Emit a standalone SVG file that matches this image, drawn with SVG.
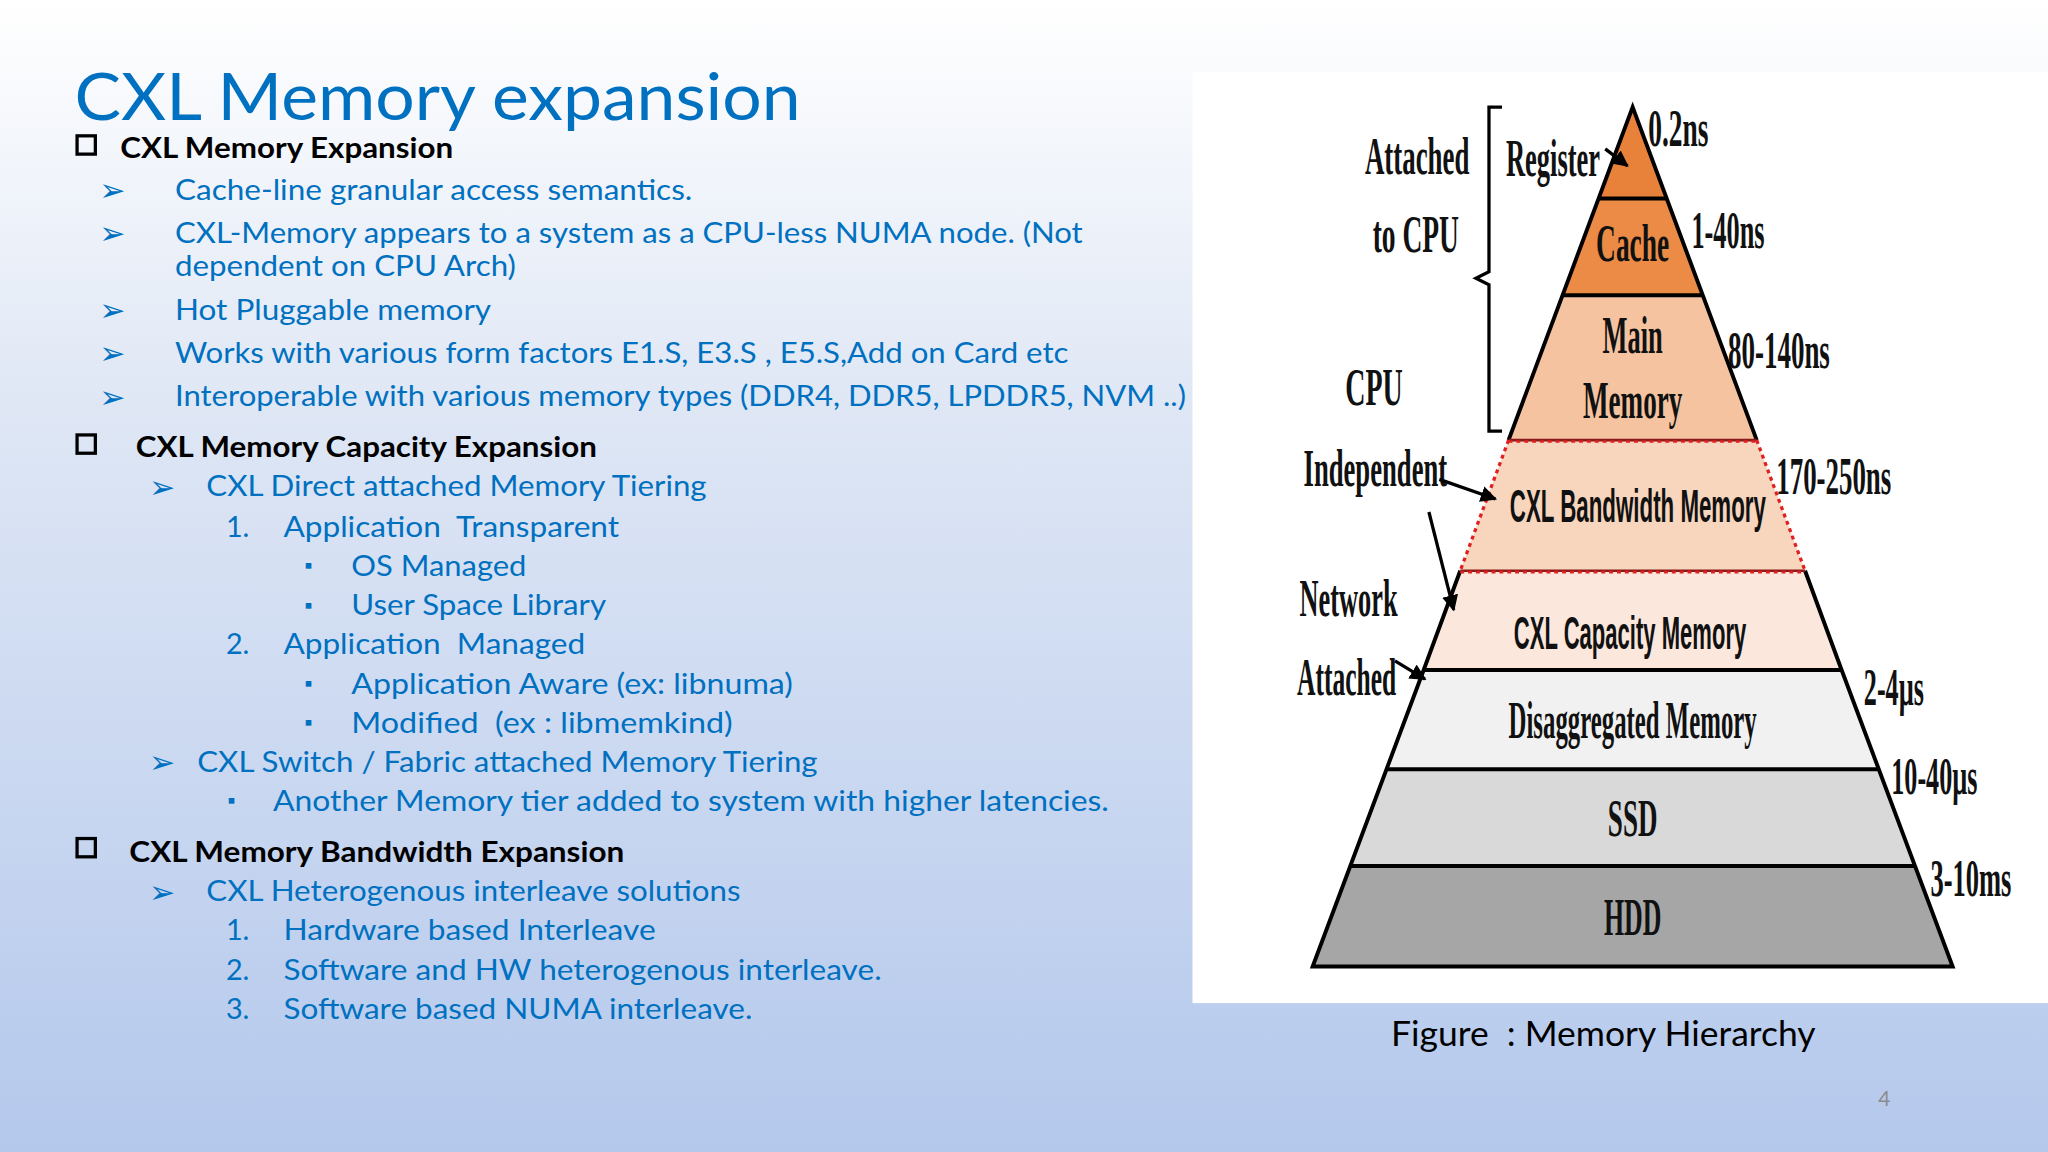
<svg xmlns="http://www.w3.org/2000/svg" width="2048" height="1152" viewBox="0 0 2048 1152">
<defs>
<linearGradient id="bg" x1="0" y1="0" x2="0" y2="1">
<stop offset="0" stop-color="#ffffff"/><stop offset="0.35" stop-color="#dfe7f5"/><stop offset="1" stop-color="#b4c8ec"/>
</linearGradient>
<marker id="ah" viewBox="0 0 10 10" refX="9" refY="5" markerWidth="5" markerHeight="5" orient="auto"><path d="M0,0L10,5L0,10z" fill="#000"/></marker>
<style>
.t{font-family:Lato,"Open Sans",sans-serif;font-size:22px;fill:#0070c0}
.b{font-family:Lato,"Open Sans",sans-serif;font-size:22px;font-weight:bold;fill:#000}
.m{font-family:"DejaVu Sans",sans-serif;font-size:24px;fill:#0070c0}
.p{font-family:"Liberation Serif",serif;font-weight:bold;font-size:40px;fill:#111}
.pc{font-family:"Liberation Sans",sans-serif;font-weight:bold;font-size:36px;fill:#111}
.ly{stroke:#000;stroke-width:3}
</style>
</defs>
<rect width="2048" height="1152" fill="url(#bg)"/>
<g transform="scale(1.30612)">
<rect x="913" y="55" width="655" height="713" fill="#fff"/>
<g id="title"><text x="57" y="92" textLength="556" lengthAdjust="spacingAndGlyphs" style="font-family:Lato,'Open Sans',sans-serif;font-size:50px;fill:#0070c0">CXL Memory expansion</text></g>
<g id="text-left">
<rect x="59" y="104" width="14" height="14" fill="none" stroke="#000" stroke-width="2.5"/>
<text class="b" x="92" y="121" textLength="255" lengthAdjust="spacingAndGlyphs">CXL Memory Expansion</text>
<text class="m" x="76" y="154">➢</text><text class="t" x="134" y="153" textLength="396" lengthAdjust="spacingAndGlyphs">Cache-line granular access semantics.</text>
<text class="m" x="76" y="187">➢</text><text class="t" x="134" y="186" textLength="695" lengthAdjust="spacingAndGlyphs">CXL-Memory appears to a system as a CPU-less NUMA node. (Not</text>
<text class="t" x="134" y="211" textLength="261" lengthAdjust="spacingAndGlyphs">dependent on CPU Arch)</text>
<text class="m" x="76" y="246">➢</text><text class="t" x="134" y="245" textLength="242" lengthAdjust="spacingAndGlyphs">Hot Pluggable memory</text>
<text class="m" x="76" y="279">➢</text><text class="t" x="134" y="278" textLength="684" lengthAdjust="spacingAndGlyphs">Works with various form factors E1.S, E3.S , E5.S,Add on Card etc</text>
<text class="m" x="76" y="312">➢</text><text class="t" x="134" y="311" textLength="774" lengthAdjust="spacingAndGlyphs">Interoperable with various memory types (DDR4, DDR5, LPDDR5, NVM ..)</text>
<rect x="59" y="333" width="14" height="14" fill="none" stroke="#000" stroke-width="2.5"/>
<text class="b" x="104" y="350" textLength="353" lengthAdjust="spacingAndGlyphs">CXL Memory Capacity Expansion</text>
<text class="m" x="114" y="381">➢</text><text class="t" x="158" y="380" textLength="383" lengthAdjust="spacingAndGlyphs">CXL Direct attached Memory Tiering</text>
<text class="t" x="173" y="411">1.</text><text class="t" x="217" y="411" xml:space="preserve" textLength="257" lengthAdjust="spacingAndGlyphs">Application  Transparent</text>
<text class="t" x="233" y="439" style="font-size:16px">▪</text><text class="t" x="269" y="441" textLength="134" lengthAdjust="spacingAndGlyphs">OS Managed</text>
<text class="t" x="233" y="469" style="font-size:16px">▪</text><text class="t" x="269" y="471" textLength="195" lengthAdjust="spacingAndGlyphs">User Space Library</text>
<text class="t" x="173" y="501">2.</text><text class="t" x="217" y="501" xml:space="preserve" textLength="231" lengthAdjust="spacingAndGlyphs">Application  Managed</text>
<text class="t" x="233" y="529" style="font-size:16px">▪</text><text class="t" x="269" y="531" textLength="338" lengthAdjust="spacingAndGlyphs">Application Aware (ex: libnuma)</text>
<text class="t" x="233" y="559" style="font-size:16px">▪</text><text class="t" x="269" y="561" xml:space="preserve" textLength="292" lengthAdjust="spacingAndGlyphs">Modified  (ex : libmemkind)</text>
<text class="m" x="114" y="592">➢</text><text class="t" x="151" y="591" textLength="475" lengthAdjust="spacingAndGlyphs">CXL Switch / Fabric attached Memory Tiering</text>
<text class="t" x="174" y="619" style="font-size:16px">▪</text><text class="t" x="209" y="621" textLength="640" lengthAdjust="spacingAndGlyphs">Another Memory tier added to system with higher latencies.</text>
<rect x="59" y="642" width="14" height="14" fill="none" stroke="#000" stroke-width="2.5"/>
<text class="b" x="99" y="660" textLength="379" lengthAdjust="spacingAndGlyphs">CXL Memory Bandwidth Expansion</text>
<text class="m" x="114" y="691">➢</text><text class="t" x="158" y="690" textLength="409" lengthAdjust="spacingAndGlyphs">CXL Heterogenous interleave solutions</text>
<text class="t" x="173" y="720">1.</text><text class="t" x="217" y="720" textLength="285" lengthAdjust="spacingAndGlyphs">Hardware based Interleave</text>
<text class="t" x="173" y="750">2.</text><text class="t" x="217" y="750" textLength="458" lengthAdjust="spacingAndGlyphs">Software and HW heterogenous interleave.</text>
<text class="t" x="173" y="780">3.</text><text class="t" x="217" y="780" textLength="359" lengthAdjust="spacingAndGlyphs">Software based NUMA interleave.</text>
</g>
<g id="pyramid">
<polygon points="1250,82 1224,152 1276,152" fill="#e8823a"/>
<polygon points="1224,152 1196,226 1304,226 1276,152" fill="#ec8b45"/>
<polygon points="1196,226 1155,337 1345,337 1304,226" fill="#f5c3a0"/>
<polygon points="1155,337 1118,437 1382,437 1345,337" fill="#f8d5bd"/>
<polygon points="1118,437 1090,513 1410,513 1382,437" fill="#fbe7dc"/>
<polygon points="1090,513 1061,589 1439,589 1410,513" fill="#f1f1f1"/>
<polygon points="1061,589 1034,663 1466,663 1439,589" fill="#d9d9d9"/>
<polygon points="1034,663 1005,740 1495,740 1466,663" fill="#a6a6a6"/>
<polyline points="1155,337 1250,82 1345,337" fill="none" class="ly"/>
<polyline points="1118,437 1090,513 1005,740 1495,740 1410,513 1382,437" fill="none" class="ly"/>
<line x1="1224" y1="152" x2="1276" y2="152" class="ly"/>
<line x1="1196" y1="226" x2="1304" y2="226" class="ly"/>
<line x1="1090" y1="513" x2="1410" y2="513" class="ly"/>
<line x1="1061" y1="589" x2="1439" y2="589" class="ly"/>
<line x1="1034" y1="663" x2="1466" y2="663" class="ly"/>
<line x1="1155" y1="337" x2="1345" y2="337" stroke="#8b1a1a" stroke-width="2"/>
<line x1="1118" y1="437" x2="1382" y2="437" stroke="#8b1a1a" stroke-width="2"/>
<polyline points="1155,337 1118,437" fill="none" stroke="#e02020" stroke-width="2.5" stroke-dasharray="3,3"/>
<polyline points="1345,337 1382,437" fill="none" stroke="#e02020" stroke-width="2.5" stroke-dasharray="3,3"/>
<line x1="1155" y1="338" x2="1345" y2="338" stroke="#e02020" stroke-width="2" stroke-dasharray="3,3"/>
<line x1="1118" y1="438" x2="1382" y2="438" stroke="#e02020" stroke-width="2" stroke-dasharray="3,3"/>
</g>
<g id="labels">
<text class="p" x="1085" y="133" text-anchor="middle" textLength="80" lengthAdjust="spacingAndGlyphs">Attached</text>
<text class="p" x="1084" y="193" text-anchor="middle" textLength="66" lengthAdjust="spacingAndGlyphs">to CPU</text>
<text class="p" x="1153" y="135" textLength="72" lengthAdjust="spacingAndGlyphs">Register</text>
<text class="p" x="1262" y="112" textLength="46" lengthAdjust="spacingAndGlyphs">0.2ns</text>
<text class="p" x="1250" y="200" text-anchor="middle" textLength="56" lengthAdjust="spacingAndGlyphs">Cache</text>
<text class="p" x="1295" y="190" textLength="56" lengthAdjust="spacingAndGlyphs">1-40ns</text>
<text class="p" x="1250" y="270" text-anchor="middle" textLength="46" lengthAdjust="spacingAndGlyphs">Main</text>
<text class="p" x="1250" y="320" text-anchor="middle" textLength="76" lengthAdjust="spacingAndGlyphs">Memory</text>
<text class="p" x="1323" y="282" textLength="78" lengthAdjust="spacingAndGlyphs">80-140ns</text>
<text class="p" x="1052" y="310" text-anchor="middle" textLength="44" lengthAdjust="spacingAndGlyphs">CPU</text>
<text class="p" x="998" y="372" textLength="110" lengthAdjust="spacingAndGlyphs">Independent</text>
<text class="pc" x="1254" y="400" text-anchor="middle" textLength="196" lengthAdjust="spacingAndGlyphs">CXL Bandwidth Memory</text>
<text class="p" x="1360" y="378" textLength="88" lengthAdjust="spacingAndGlyphs">170-250ns</text>
<text class="p" x="995" y="472" textLength="75" lengthAdjust="spacingAndGlyphs">Network</text>
<text class="p" x="993" y="532" textLength="76" lengthAdjust="spacingAndGlyphs">Attached</text>
<text class="pc" x="1248" y="497" text-anchor="middle" textLength="178" lengthAdjust="spacingAndGlyphs">CXL Capacity Memory</text>
<text class="p" x="1250" y="565" text-anchor="middle" textLength="190" lengthAdjust="spacingAndGlyphs">Disaggregated Memory</text>
<text class="p" x="1427" y="540" textLength="46" lengthAdjust="spacingAndGlyphs">2-4µs</text>
<text class="p" x="1448" y="608" textLength="66" lengthAdjust="spacingAndGlyphs">10-40µs</text>
<text class="p" x="1250" y="640" text-anchor="middle" textLength="38" lengthAdjust="spacingAndGlyphs">SSD</text>
<text class="p" x="1478" y="686" textLength="62" lengthAdjust="spacingAndGlyphs">3-10ms</text>
<text class="p" x="1250" y="716" text-anchor="middle" textLength="44" lengthAdjust="spacingAndGlyphs">HDD</text>
</g>
<g id="connectors" fill="none" stroke="#000" stroke-width="2.5">
<path d="M1150,82 H1140 V208 L1130,213 L1140,218 V330 H1150"/>
<line x1="1229" y1="114" x2="1246" y2="127" marker-end="url(#ah)"/>
<line x1="1102" y1="367" x2="1145" y2="382" marker-end="url(#ah)"/>
<line x1="1094" y1="392" x2="1113" y2="467" marker-end="url(#ah)"/>
<line x1="1068" y1="506" x2="1091" y2="520" marker-end="url(#ah)"/>
</g>
<g id="caption">
<text x="1065" y="801" textLength="325" lengthAdjust="spacingAndGlyphs" style="font-family:Lato,'Open Sans',sans-serif;font-size:26px;fill:#000" xml:space="preserve">Figure  : Memory Hierarchy</text>
<text x="1438" y="847" style="font-family:Lato,sans-serif;font-size:16px;fill:#8c8c8c">4</text>
</g>
</g>
</svg>
